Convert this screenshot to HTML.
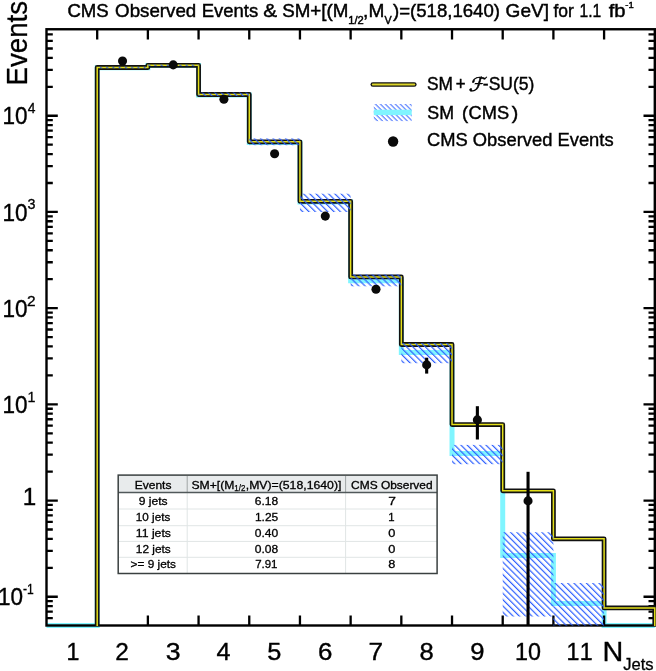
<!DOCTYPE html>
<html><head><meta charset="utf-8"><title>CMS Observed Events</title><style>
html,body{margin:0;padding:0;background:#fff;}
body{width:656px;height:671px;overflow:hidden;position:relative;}
svg{position:absolute;left:0;top:0;}
text{font-family:"Liberation Sans",Arial,sans-serif;fill:#000;}
</style></head><body>
<svg width="656" height="671" viewBox="0 0 656 671">
<defs>
<pattern id="hp" patternUnits="userSpaceOnUse" width="4.4265" height="20" patternTransform="rotate(-45)">
<rect x="1.75" y="0" width="1.2" height="20" fill="#2c5eff"/>
</pattern>
<pattern id="hpl" patternUnits="userSpaceOnUse" width="3.5" height="20" patternTransform="rotate(-45)">
<rect x="2.4" y="0" width="0.95" height="20" fill="#2c5eff"/>
</pattern>
<pattern id="hp1" patternUnits="userSpaceOnUse" width="4.4265" height="20" patternTransform="rotate(-45)"><rect x="0.831" y="0" width="1.2" height="20" fill="#2c5eff"/></pattern><pattern id="hp2" patternUnits="userSpaceOnUse" width="4.4265" height="20" patternTransform="rotate(-45)"><rect x="1.043" y="0" width="1.2" height="20" fill="#2c5eff"/></pattern><pattern id="hp6" patternUnits="userSpaceOnUse" width="4.4265" height="20" patternTransform="rotate(-45)"><rect x="2.174" y="0" width="1.2" height="20" fill="#2c5eff"/></pattern>
</defs>
<rect width="656" height="671" fill="#fff"/>
<path d="M46.50,625.50 L97.19,625.50 L97.19,67.80 L147.88,67.80 L147.88,65.60 L198.57,65.60 L198.57,95.00 L249.26,95.00 L249.26,142.50 L299.95,142.50 L299.95,202.00 L350.64,202.00 L350.64,280.80 L401.33,280.80 L401.33,352.40 L452.02,352.40 L452.02,453.40 L502.71,453.40 L502.71,555.60 L553.40,555.60 L553.40,603.40 L604.09,603.40 L604.09,625.50 L654.78,625.50" fill="none" stroke="#80f5ff" stroke-width="5" stroke-linejoin="miter"/>
<rect x="46.5" y="29.25" width="608.30" height="596.25" fill="none" stroke="#000" stroke-width="2.4"/>
<path d="M46.50,618.09H52.80 M654.80,618.09H648.50 M46.50,611.65H52.80 M654.80,611.65H648.50 M46.50,606.07H52.80 M654.80,606.07H648.50 M46.50,601.15H52.80 M654.80,601.15H648.50 M46.50,596.75H57.80 M654.80,596.75H643.50 M46.50,567.79H52.80 M654.80,567.79H648.50 M46.50,550.85H52.80 M654.80,550.85H648.50 M46.50,538.83H52.80 M654.80,538.83H648.50 M46.50,529.51H52.80 M654.80,529.51H648.50 M46.50,521.89H52.80 M654.80,521.89H648.50 M46.50,515.45H52.80 M654.80,515.45H648.50 M46.50,509.87H52.80 M654.80,509.87H648.50 M46.50,504.95H52.80 M654.80,504.95H648.50 M46.50,500.55H57.80 M654.80,500.55H643.50 M46.50,471.59H52.80 M654.80,471.59H648.50 M46.50,454.65H52.80 M654.80,454.65H648.50 M46.50,442.63H52.80 M654.80,442.63H648.50 M46.50,433.31H52.80 M654.80,433.31H648.50 M46.50,425.69H52.80 M654.80,425.69H648.50 M46.50,419.25H52.80 M654.80,419.25H648.50 M46.50,413.67H52.80 M654.80,413.67H648.50 M46.50,408.75H52.80 M654.80,408.75H648.50 M46.50,404.35H57.80 M654.80,404.35H643.50 M46.50,375.39H52.80 M654.80,375.39H648.50 M46.50,358.45H52.80 M654.80,358.45H648.50 M46.50,346.43H52.80 M654.80,346.43H648.50 M46.50,337.11H52.80 M654.80,337.11H648.50 M46.50,329.49H52.80 M654.80,329.49H648.50 M46.50,323.05H52.80 M654.80,323.05H648.50 M46.50,317.47H52.80 M654.80,317.47H648.50 M46.50,312.55H52.80 M654.80,312.55H648.50 M46.50,308.15H57.80 M654.80,308.15H643.50 M46.50,279.19H52.80 M654.80,279.19H648.50 M46.50,262.25H52.80 M654.80,262.25H648.50 M46.50,250.23H52.80 M654.80,250.23H648.50 M46.50,240.91H52.80 M654.80,240.91H648.50 M46.50,233.29H52.80 M654.80,233.29H648.50 M46.50,226.85H52.80 M654.80,226.85H648.50 M46.50,221.27H52.80 M654.80,221.27H648.50 M46.50,216.35H52.80 M654.80,216.35H648.50 M46.50,211.95H57.80 M654.80,211.95H643.50 M46.50,182.99H52.80 M654.80,182.99H648.50 M46.50,166.05H52.80 M654.80,166.05H648.50 M46.50,154.03H52.80 M654.80,154.03H648.50 M46.50,144.71H52.80 M654.80,144.71H648.50 M46.50,137.09H52.80 M654.80,137.09H648.50 M46.50,130.65H52.80 M654.80,130.65H648.50 M46.50,125.07H52.80 M654.80,125.07H648.50 M46.50,120.15H52.80 M654.80,120.15H648.50 M46.50,115.75H57.80 M654.80,115.75H643.50 M46.50,86.79H52.80 M654.80,86.79H648.50 M46.50,69.85H52.80 M654.80,69.85H648.50 M46.50,57.83H52.80 M654.80,57.83H648.50 M46.50,48.51H52.80 M654.80,48.51H648.50 M46.50,40.89H52.80 M654.80,40.89H648.50 M46.50,34.45H52.80 M654.80,34.45H648.50 M97.19,29.25V39.55 M97.19,625.50V615.50 M147.88,29.25V39.55 M147.88,625.50V615.50 M198.57,29.25V39.55 M198.57,625.50V615.50 M249.26,29.25V39.55 M249.26,625.50V615.50 M299.95,29.25V39.55 M299.95,625.50V615.50 M350.64,29.25V39.55 M350.64,625.50V615.50 M401.33,29.25V39.55 M401.33,625.50V615.50 M452.02,29.25V39.55 M452.02,625.50V615.50 M502.71,29.25V39.55 M502.71,625.50V615.50 M553.40,29.25V39.55 M553.40,625.50V615.50 M604.09,29.25V39.55 M604.09,625.50V615.50" stroke="#000" stroke-width="2.3" fill="none"/>
<path d="M97.19,626.00 L97.19,67.50 L147.88,67.50 L147.88,65.30 L198.57,65.30 L198.57,94.50 L249.26,94.50 L249.26,141.80 L299.95,141.80 L299.95,201.30 L350.64,201.30 L350.64,276.90 L401.33,276.90 L401.33,344.50 L452.02,344.50 L452.02,424.60 L502.71,424.60 L502.71,490.80 L553.40,490.80 L553.40,538.80 L604.09,538.80 L604.09,607.90 L654.78,607.90 L654.78,626.00" fill="none" stroke="#111" stroke-width="4.8" stroke-linejoin="round"/>
<path d="M97.19,626.00 L97.19,67.50 L147.88,67.50 L147.88,65.30 L198.57,65.30 L198.57,94.50 L249.26,94.50 L249.26,141.80 L299.95,141.80 L299.95,201.30 L350.64,201.30 L350.64,276.90 L401.33,276.90 L401.33,344.50 L452.02,344.50 L452.02,424.60 L502.71,424.60 L502.71,490.80 L553.40,490.80 L553.40,538.80 L604.09,538.80 L604.09,607.90 L654.78,607.90 L654.78,626.00" fill="none" stroke="#e4e01a" stroke-width="1.5" stroke-linejoin="miter"/>
<rect x="97.19" y="66.80" width="50.69" height="1.50" fill="url(#hp1)"/><rect x="147.88" y="64.60" width="50.69" height="1.50" fill="url(#hp2)"/><rect x="198.57" y="92.60" width="50.69" height="3.50" fill="url(#hp)"/><rect x="249.26" y="138.40" width="50.69" height="6.80" fill="url(#hp)"/><rect x="299.95" y="193.70" width="50.69" height="18.30" fill="url(#hp)"/><rect x="350.64" y="274.40" width="50.69" height="11.90" fill="url(#hp6)"/><rect x="401.33" y="343.00" width="50.69" height="20.20" fill="url(#hp)"/><rect x="452.02" y="444.90" width="50.69" height="19.30" fill="url(#hp)"/><rect x="502.71" y="532.20" width="50.69" height="84.30" fill="url(#hp)"/><rect x="553.40" y="583.00" width="50.69" height="42.50" fill="url(#hp)"/>
<circle cx="122.53" cy="61.05" r="4.55" fill="#0a0a0a"/><circle cx="173.22" cy="64.90" r="4.55" fill="#0a0a0a"/><circle cx="223.91" cy="99.30" r="4.55" fill="#0a0a0a"/><circle cx="274.61" cy="153.80" r="4.55" fill="#0a0a0a"/><circle cx="325.29" cy="216.10" r="4.55" fill="#0a0a0a"/><circle cx="375.99" cy="289.30" r="4.55" fill="#0a0a0a"/><path d="M426.67,357.70V373.60" stroke="#000" stroke-width="3.1"/><circle cx="426.67" cy="364.90" r="4.55" fill="#0a0a0a"/><path d="M477.37,406.20V439.50" stroke="#000" stroke-width="3.1"/><circle cx="477.37" cy="419.90" r="4.55" fill="#0a0a0a"/><path d="M528.05,471.80V625.50" stroke="#000" stroke-width="3.1"/><circle cx="528.05" cy="500.90" r="4.55" fill="#0a0a0a"/>
<text x="67.42" y="16.8" font-size="18.6" textLength="41.38" lengthAdjust="spacingAndGlyphs" stroke="#000" stroke-width="0.45" >CMS</text>
<text x="115.12" y="16.8" font-size="18.6" textLength="81.19" lengthAdjust="spacingAndGlyphs" stroke="#000" stroke-width="0.45" >Observed</text>
<text x="201.74" y="16.8" font-size="18.6" textLength="56.43" lengthAdjust="spacingAndGlyphs" stroke="#000" stroke-width="0.45" >Events</text>
<text x="263.29" y="16.8" font-size="18.6" textLength="13.84" lengthAdjust="spacingAndGlyphs" stroke="#000" stroke-width="0.45" >&amp;</text>
<text x="282.22" y="16.8" font-size="18.6" textLength="66.18" lengthAdjust="spacingAndGlyphs" stroke="#000" stroke-width="0.45" >SM+[(M</text>
<text x="348.23" y="23.8" font-size="10.5" textLength="15.49" lengthAdjust="spacingAndGlyphs" stroke="#000" stroke-width="0.45" >1/2</text>
<text x="363.13" y="16.8" font-size="18.6" textLength="21.19" lengthAdjust="spacingAndGlyphs" stroke="#000" stroke-width="0.45" >,M</text>
<text x="384.62" y="23.5" font-size="10.5" textLength="7.17" lengthAdjust="spacingAndGlyphs" stroke="#000" stroke-width="0.45" >V</text>
<text x="392.97" y="16.8" font-size="18.6" textLength="107.05" lengthAdjust="spacingAndGlyphs" stroke="#000" stroke-width="0.45" >)=(518,1640)</text>
<text x="505.60" y="16.8" font-size="18.6" textLength="43.38" lengthAdjust="spacingAndGlyphs" stroke="#000" stroke-width="0.45" >GeV]</text>
<text x="553.39" y="16.8" font-size="18.6" textLength="20.38" lengthAdjust="spacingAndGlyphs" stroke="#000" stroke-width="0.45" >for</text>
<text x="579.46" y="16.8" font-size="18.6" textLength="21.73" lengthAdjust="spacingAndGlyphs" stroke="#000" stroke-width="0.45" >1.1</text>
<text x="608.75" y="16.8" font-size="18.6" textLength="16.85" lengthAdjust="spacingAndGlyphs" stroke="#000" stroke-width="0.45" >fb</text>
<text x="625.33" y="7.9" font-size="9.5" textLength="8.40" lengthAdjust="spacingAndGlyphs" stroke="#000" stroke-width="0.45" >-1</text>
<text transform="translate(27.2,83.3) rotate(-90)" x="-2.24" y="0" font-size="29.0" textLength="84.67" lengthAdjust="spacingAndGlyphs" stroke="#000" stroke-width="0.3">Events</text>
<text x="2.47" y="124.45" font-size="23.2" textLength="25.07" lengthAdjust="spacingAndGlyphs" stroke="#000" stroke-width="0.35" >10</text>
<text x="27.70" y="113.25" font-size="14.0" textLength="7.69" lengthAdjust="spacingAndGlyphs" stroke="#000" stroke-width="0.3" >4</text>
<text x="2.47" y="220.65" font-size="23.2" textLength="25.07" lengthAdjust="spacingAndGlyphs" stroke="#000" stroke-width="0.35" >10</text>
<text x="27.44" y="209.45" font-size="14.0" textLength="7.97" lengthAdjust="spacingAndGlyphs" stroke="#000" stroke-width="0.3" >3</text>
<text x="2.47" y="316.85" font-size="23.2" textLength="25.07" lengthAdjust="spacingAndGlyphs" stroke="#000" stroke-width="0.35" >10</text>
<text x="27.12" y="305.65" font-size="14.0" textLength="8.61" lengthAdjust="spacingAndGlyphs" stroke="#000" stroke-width="0.3" >2</text>
<text x="2.47" y="413.05" font-size="23.2" textLength="25.07" lengthAdjust="spacingAndGlyphs" stroke="#000" stroke-width="0.35" >10</text>
<text x="27.42" y="401.55" font-size="14.3" stroke="#000" stroke-width="0.3">1</text>
<text x="22.72" y="504.9" font-size="24.2" stroke="#000" stroke-width="0.4">1</text>
<text x="-1.93" y="605.25" font-size="23.2" textLength="25.07" lengthAdjust="spacingAndGlyphs" stroke="#000" stroke-width="0.35" >10</text>
<text x="23.02" y="593.90" font-size="14.0" textLength="10.74" lengthAdjust="spacingAndGlyphs" stroke="#000" stroke-width="0.3" >-1</text>
<text x="66.51" y="659.9" font-size="23.2" stroke="#000" stroke-width="0.4">1</text>
<text x="115.15" y="659.9" font-size="23.0" textLength="13.59" lengthAdjust="spacingAndGlyphs" stroke="#000" stroke-width="0.35" >2</text>
<text x="165.82" y="659.9" font-size="23.0" textLength="14.82" lengthAdjust="spacingAndGlyphs" stroke="#000" stroke-width="0.35" >3</text>
<text x="216.63" y="659.9" font-size="23.0" textLength="13.97" lengthAdjust="spacingAndGlyphs" stroke="#000" stroke-width="0.35" >4</text>
<text x="267.37" y="659.9" font-size="23.0" textLength="14.11" lengthAdjust="spacingAndGlyphs" stroke="#000" stroke-width="0.35" >5</text>
<text x="317.96" y="659.9" font-size="23.0" textLength="14.44" lengthAdjust="spacingAndGlyphs" stroke="#000" stroke-width="0.35" >6</text>
<text x="368.59" y="659.9" font-size="23.0" textLength="14.56" lengthAdjust="spacingAndGlyphs" stroke="#000" stroke-width="0.35" >7</text>
<text x="419.59" y="659.9" font-size="23.0" textLength="14.23" lengthAdjust="spacingAndGlyphs" stroke="#000" stroke-width="0.35" >8</text>
<text x="470.28" y="659.9" font-size="23.0" textLength="14.23" lengthAdjust="spacingAndGlyphs" stroke="#000" stroke-width="0.35" >9</text>
<text x="515.10" y="659.9" font-size="23.0" textLength="25.98" lengthAdjust="spacingAndGlyphs" stroke="#000" stroke-width="0.35" >10</text>
<text x="566.61" y="659.9" font-size="23.2" stroke="#000" stroke-width="0.4">1</text>
<text x="579.71" y="659.9" font-size="23.2" stroke="#000" stroke-width="0.4">1</text>
<text x="602.60" y="661.0" font-size="28.5" textLength="20.79" lengthAdjust="spacingAndGlyphs" stroke="#000" stroke-width="0.35" >N</text>
<text x="623.29" y="670.2" font-size="16.0" textLength="30.37" lengthAdjust="spacingAndGlyphs" stroke="#000" stroke-width="0.3" >Jets</text>
<line x1="372.8" y1="84.45" x2="414.3" y2="84.45" stroke="#111" stroke-width="4.6" stroke-linecap="round"/>
<line x1="372.8" y1="84.45" x2="414.3" y2="84.45" stroke="#dcd52a" stroke-width="2" stroke-linecap="round"/>
<rect x="373.8" y="104" width="37.9" height="17.1" fill="url(#hpl)"/>
<rect x="373.8" y="109.7" width="37.9" height="5.4" fill="#80f5ff"/>
<circle cx="393.1" cy="141.5" r="5.2" fill="#0a0a0a"/>
<text x="426.88" y="89.9" font-size="18.0" textLength="25.96" lengthAdjust="spacingAndGlyphs" stroke="#000" stroke-width="0.4" >SM</text>
<text x="455.72" y="89.9" font-size="18.0" textLength="9.77" lengthAdjust="spacingAndGlyphs" stroke="#000" stroke-width="0.5" >+</text>
<g transform="translate(478,85) skewX(-16) translate(-478,-85)"><text x="470.16" y="90.9" font-size="19.0" textLength="14.83" lengthAdjust="spacingAndGlyphs" stroke="#000" stroke-width="0.6" style="font-family:DejaVu Sans" >&#x2131;</text></g>
<text x="482.87" y="89.9" font-size="18.0" textLength="51.55" lengthAdjust="spacingAndGlyphs" stroke="#000" stroke-width="0.4" >-SU(5)</text>
<text x="427.26" y="119.1" font-size="18.0" textLength="26.73" lengthAdjust="spacingAndGlyphs" stroke="#000" stroke-width="0.4" >SM</text>
<text x="462.10" y="119.4" font-size="18.0" textLength="6.13" lengthAdjust="spacingAndGlyphs" stroke="#000" stroke-width="0.45" >(</text>
<text x="468.59" y="119.1" font-size="18.0" textLength="40.58" lengthAdjust="spacingAndGlyphs" stroke="#000" stroke-width="0.4" >CMS</text>
<text x="511.66" y="119.4" font-size="18.0" textLength="6.47" lengthAdjust="spacingAndGlyphs" stroke="#000" stroke-width="0.45" >)</text>
<text x="426.98" y="146.0" font-size="18.0" textLength="186.61" lengthAdjust="spacingAndGlyphs" stroke="#000" stroke-width="0.4" >CMS Observed Events</text>
<rect x="118.2" y="475.1" width="318.9" height="98.4" fill="#fff"/>
<rect x="118.2" y="475.1" width="318.9" height="17.4" fill="#e8ebec"/>
<g stroke="#e0e5e5" stroke-width="1">
<line x1="118" y1="509.0" x2="437" y2="509.0"/>
<line x1="118" y1="525.7" x2="437" y2="525.7"/>
<line x1="118" y1="541.4" x2="437" y2="541.4"/>
<line x1="118" y1="557.3" x2="437" y2="557.3"/>
<line x1="187.2" y1="493" x2="187.2" y2="574"/>
<line x1="345.6" y1="493" x2="345.6" y2="574"/>
</g>
<g stroke="#a0a6a6" stroke-width="1">
<line x1="187.2" y1="476" x2="187.2" y2="492"/>
<line x1="345.6" y1="476" x2="345.6" y2="492"/>
</g>
<line x1="118" y1="492.5" x2="437" y2="492.5" stroke="#50585a" stroke-width="1.5"/>
<rect x="118.2" y="475.1" width="318.9" height="98.4" fill="none" stroke="#3a4040" stroke-width="1.5"/>
<text x="134.76" y="488.6" font-size="11.0" textLength="36.72" lengthAdjust="spacingAndGlyphs" stroke="#000" stroke-width="0.3" >Events</text>
<text x="191.50" y="488.6" font-size="11.0" textLength="42.95" lengthAdjust="spacingAndGlyphs" stroke="#000" stroke-width="0.3" >SM+[(M</text>
<text x="234.30" y="490.6" font-size="8.2" textLength="11.06" lengthAdjust="spacingAndGlyphs" stroke="#000" stroke-width="0.25" >1/2</text>
<text x="245.74" y="488.6" font-size="11.0" textLength="95.64" lengthAdjust="spacingAndGlyphs" stroke="#000" stroke-width="0.3" >,MV)=(518,1640)]</text>
<text x="351.11" y="488.6" font-size="11.0" textLength="81.50" lengthAdjust="spacingAndGlyphs" stroke="#000" stroke-width="0.3" >CMS Observed</text>
<text x="138.72" y="504.7" font-size="11.5" textLength="28.95" lengthAdjust="spacingAndGlyphs" stroke="#000" stroke-width="0.3" >9 jets</text>
<text x="254.83" y="504.7" font-size="11.5" textLength="23.43" lengthAdjust="spacingAndGlyphs" stroke="#000" stroke-width="0.3" >6.18</text>
<text x="388.25" y="504.7" font-size="11.5" textLength="7.69" lengthAdjust="spacingAndGlyphs" stroke="#000" stroke-width="0.3" >7</text>
<text x="135.83" y="520.8" font-size="11.5" textLength="34.41" lengthAdjust="spacingAndGlyphs" stroke="#000" stroke-width="0.3" >10 jets</text>
<text x="254.91" y="520.8" font-size="11.5" textLength="23.35" lengthAdjust="spacingAndGlyphs" stroke="#000" stroke-width="0.3" >1.25</text>
<text x="388.16" y="520.8" font-size="11.5" textLength="6.34" lengthAdjust="spacingAndGlyphs" stroke="#000" stroke-width="0.3" >1</text>
<text x="135.79" y="536.8" font-size="11.5" textLength="35.13" lengthAdjust="spacingAndGlyphs" stroke="#000" stroke-width="0.3" >11 jets</text>
<text x="254.83" y="536.8" font-size="11.5" textLength="23.43" lengthAdjust="spacingAndGlyphs" stroke="#000" stroke-width="0.3" >0.40</text>
<text x="388.30" y="536.8" font-size="11.5" textLength="7.11" lengthAdjust="spacingAndGlyphs" stroke="#000" stroke-width="0.3" >0</text>
<text x="135.82" y="552.8" font-size="11.5" textLength="34.93" lengthAdjust="spacingAndGlyphs" stroke="#000" stroke-width="0.3" >12 jets</text>
<text x="254.83" y="552.8" font-size="11.5" textLength="23.43" lengthAdjust="spacingAndGlyphs" stroke="#000" stroke-width="0.3" >0.08</text>
<text x="388.30" y="552.8" font-size="11.5" textLength="7.11" lengthAdjust="spacingAndGlyphs" stroke="#000" stroke-width="0.3" >0</text>
<text x="130.64" y="568.3" font-size="11.5" textLength="45.40" lengthAdjust="spacingAndGlyphs" stroke="#000" stroke-width="0.3" >&gt;= 9 jets</text>
<text x="255.15" y="568.3" font-size="11.5" textLength="22.34" lengthAdjust="spacingAndGlyphs" stroke="#000" stroke-width="0.3" >7.91</text>
<text x="388.30" y="568.3" font-size="11.5" textLength="7.11" lengthAdjust="spacingAndGlyphs" stroke="#000" stroke-width="0.3" >8</text>
</svg>
</body></html>
